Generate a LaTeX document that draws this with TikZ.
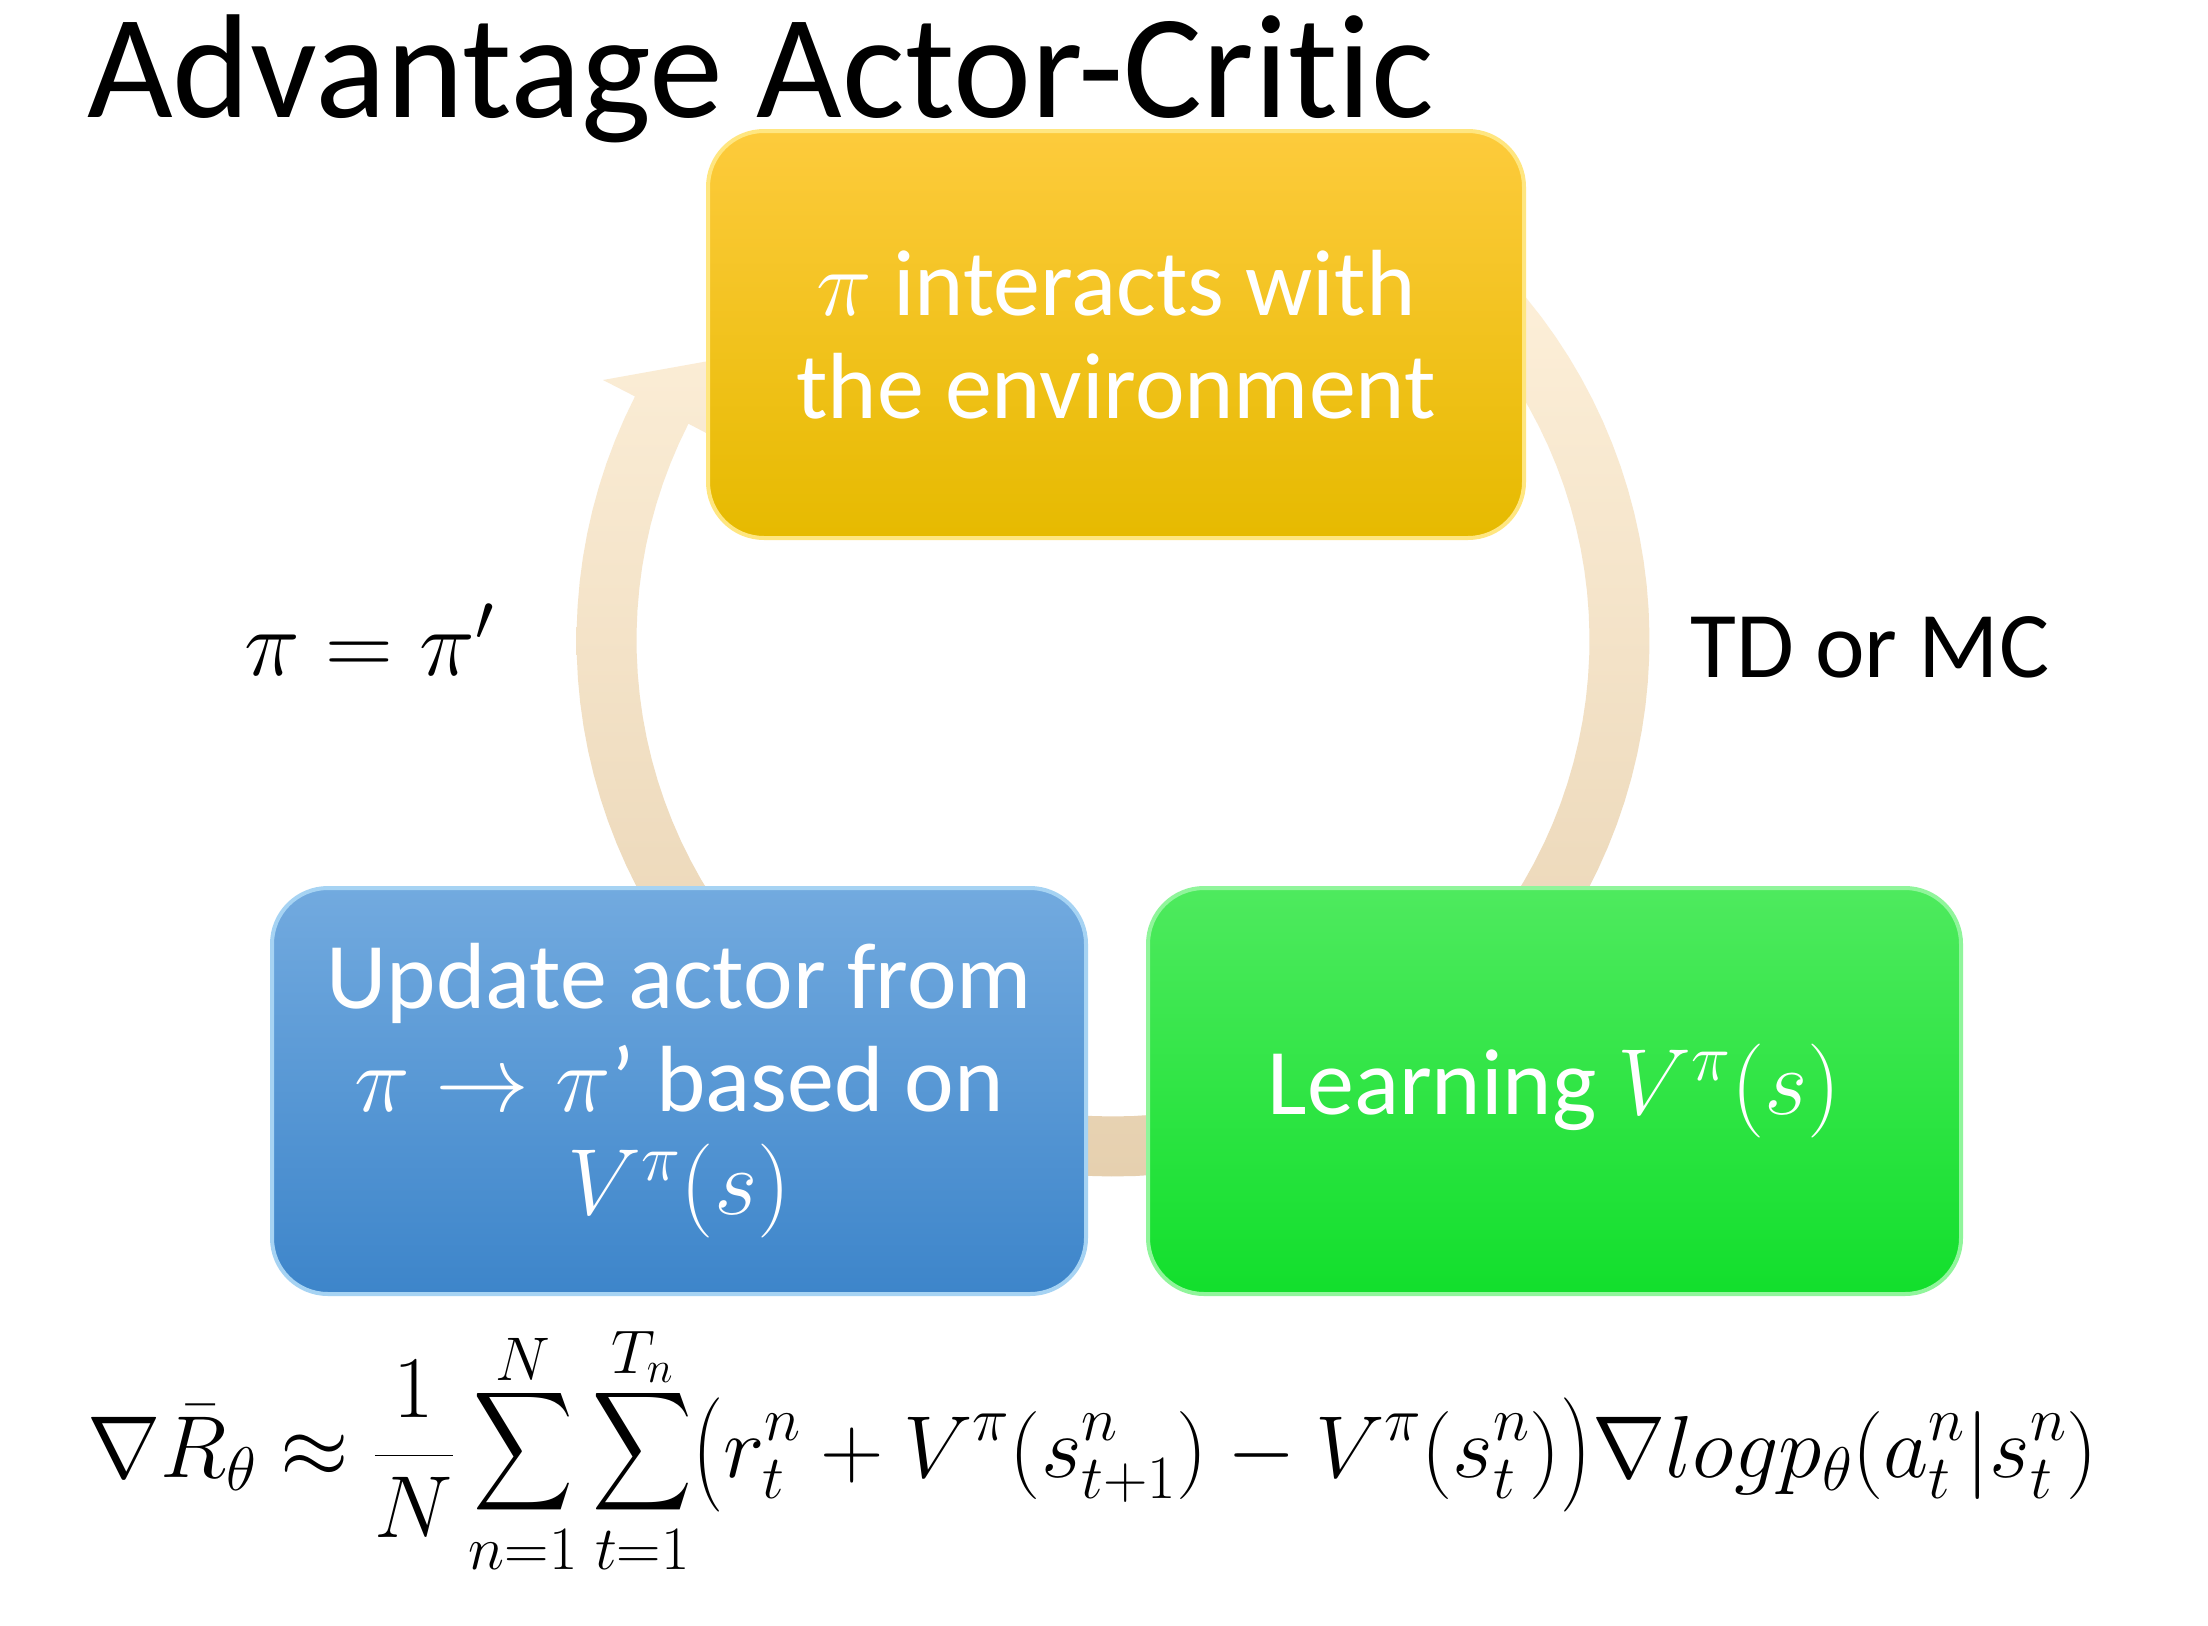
\RequirePackage{fix-cm}
\documentclass[tikz,border=0pt]{standalone}
\usepackage{amsmath}
\usepackage{fontspec}
\setmainfont{Carlito}[Ligatures=NoCommon]
\usetikzlibrary{calc}
\definecolor{ringtop}{HTML}{FEF1DB}
\definecolor{ringmid}{HTML}{FDEDD3}
\definecolor{ringbot}{HTML}{E6D0AF}
\definecolor{yeltop}{HTML}{FDCB3C}
\definecolor{yelmid}{HTML}{F8C500}
\definecolor{yelbot}{HTML}{E6BA00}
\definecolor{yelrim}{HTML}{FFE680}
\definecolor{blutop}{HTML}{72AADF}
\definecolor{blumid}{HTML}{5598D6}
\definecolor{blubot}{HTML}{3D85CA}
\definecolor{blurim}{HTML}{A6D3F3}
\definecolor{grntop}{HTML}{4EEA5E}
\definecolor{grnmid}{HTML}{30E545}
\definecolor{grnbot}{HTML}{12DF2C}
\definecolor{grnrim}{HTML}{90F59B}
\newcommand{\BigSum}{\mathop{\vcenter{\hbox{\resizebox{100pt}{140pt}{$\displaystyle\sum$}}}}\limits}
\newcommand{\TallL}{\mathopen{\vcenter{\hbox{\scalebox{1}[1.3]{$($}}}}}
\newcommand{\TallR}{\mathclose{\vcenter{\hbox{\scalebox{1}[1.3]{$)$}}}}}
\tikzset{
  stagebox/.style={rounded corners=56pt, minimum width=814pt, minimum height=406pt,
    align=center, text=white, line width=4pt,
    font={\fontsize{94}{103}\selectfont}},
  plaintext/.style={text=black, font={\fontsize{94}{103}\selectfont}, inner sep=0pt},
}
\begin{document}
\begin{tikzpicture}[x=1pt,y=-1pt]
\useasboundingbox[fill=white] (0,0) rectangle (2208,1625);
% cycle ring with arrow head
\path[top color=ringtop, middle color=ringmid, bottom color=ringbot]
  plot[domain=153:410,samples=100] ({1113+536.5*cos(\x)},{640-536.5*sin(\x)})
  -- plot[domain=410:153,samples=100] ({1113+476.5*cos(\x)},{640-476.5*sin(\x)})
  -- (710,435) -- (770,350) -- (603,380) -- cycle;
% boxes
\node[stagebox, draw=yelrim, top color=yeltop, middle color=yelmid, bottom color=yelbot,
  minimum width=816pt, minimum height=407pt] (env) at (1116,334.5)
  {$\pi$ interacts with\\the environment};
\node[stagebox, draw=blurim, top color=blutop, middle color=blumid, bottom color=blubot]
  (actor) at (679,1091)
  {Update actor from\\$\pi\rightarrow\pi$’ based on\\$V^{\pi}(s)$};
\node[stagebox, draw=grnrim, top color=grntop, middle color=grnmid, bottom color=grnbot,
  minimum width=813pt] (critic) at (1554.5,1091)
  {Learning $V^{\pi}(s)$};
% labels
\node[anchor=base west, inner sep=0pt, font={\fontsize{148}{150}\selectfont}] (title) at (87,117)
  {Advantage Actor-Critic};
\node[plaintext, anchor=base west] (upd) at (244,675) {$\pi=\pi'$};
\node[plaintext, anchor=base west] (tdmc) at (1690,677) {TD or MC};
\node[plaintext, anchor=west, font={\fontsize{88}{92}\selectfont}] (formula) at (87,1450)
  {$\displaystyle \nabla\bar{R}_\theta \approx \frac{1}{N}\BigSum_{n=1}^{N}\BigSum_{t=1}^{T_n}\TallL r_t^n+V^{\pi}(s_{t+1}^n)-V^{\pi}(s_t^n)\TallR\nabla log p_\theta(a_t^n|s_t^n)$};
\end{tikzpicture}
\end{document}
